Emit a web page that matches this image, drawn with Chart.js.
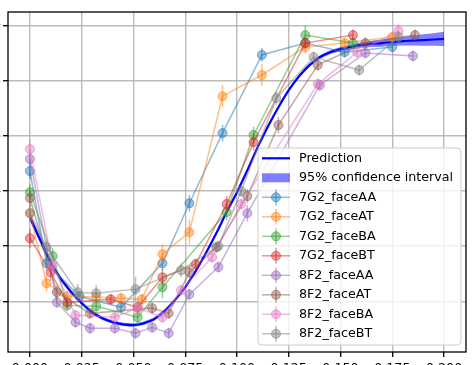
<!DOCTYPE html>
<html>
<head>
<meta charset="utf-8">
<script src="https://cdn.jsdelivr.net/npm/chart.js@4.4.1/dist/chart.umd.min.js"></script>
<style>
  html, body { margin: 0; padding: 0; background: #fff; overflow: hidden; }
  #wrap { position: absolute; left: -32px; top: 0; }
</style>
</head>
<body>
<div id="wrap"><canvas id="fitChart" width="506" height="392"></canvas></div>
<script>
// tick labels
const xTicks = [0, 0.025, 0.05, 0.075, 0.1, 0.125, 0.15, 0.175, 0.2];
const yTicks = [0, 0.2, 0.4, 0.6, 0.8, 1.0];

// fitted curve and its 95% band
const predX = [0.000, 0.005, 0.010, 0.015, 0.020, 0.025, 0.030, 0.035, 0.040, 0.045,
               0.050, 0.055, 0.060, 0.065, 0.070, 0.075, 0.080, 0.085, 0.090, 0.095,
               0.100, 0.105, 0.110, 0.115, 0.120, 0.125, 0.130, 0.135, 0.140, 0.145,
               0.150, 0.155, 0.160, 0.165, 0.170, 0.175, 0.180, 0.185, 0.190, 0.195, 0.200];
const predY = [0.305, 0.222, 0.142, 0.080, 0.033, -0.007, -0.040, -0.062, -0.076, -0.084,
               -0.087, -0.080, -0.065, -0.036, 0.004, 0.051, 0.109, 0.175, 0.247, 0.324,
               0.396, 0.476, 0.560, 0.636, 0.705, 0.767, 0.818, 0.858, 0.887, 0.905,
               0.916, 0.924, 0.931, 0.935, 0.938, 0.942, 0.945, 0.947, 0.949, 0.951, 0.953];
const ciLow  = [0.291, 0.211, 0.133, 0.072, 0.026, -0.013, -0.046, -0.068, -0.082, -0.090,
               -0.093, -0.086, -0.071, -0.042, -0.002, 0.045, 0.103, 0.169, 0.241, 0.318,
               0.390, 0.470, 0.554, 0.630, 0.699, 0.761, 0.812, 0.852, 0.880, 0.898,
               0.908, 0.915, 0.921, 0.924, 0.925, 0.928, 0.929, 0.929, 0.928, 0.928, 0.927];
const ciHigh = [0.319, 0.233, 0.151, 0.088, 0.040, -0.001, -0.034, -0.056, -0.070, -0.078,
               -0.081, -0.074, -0.059, -0.030, 0.010, 0.057, 0.115, 0.181, 0.253, 0.330,
               0.402, 0.482, 0.566, 0.642, 0.711, 0.773, 0.824, 0.864, 0.894, 0.912,
               0.924, 0.933, 0.941, 0.946, 0.951, 0.956, 0.961, 0.965, 0.970, 0.974, 0.979];

// measured series
const seriesNames = ['7G2_faceAA', '7G2_faceAT', '7G2_faceBA', '7G2_faceBT',
                     '8F2_faceAA', '8F2_faceAT', '8F2_faceBA', '8F2_faceBT'];

const x7G2_AA = [0.000, 0.008, 0.024, 0.044, 0.064, 0.077, 0.093, 0.112, 0.133, 0.152, 0.175];
const y7G2_AA = [0.473, 0.138, 0.018, -0.022, 0.138, 0.356, 0.611, 0.895, 0.938, 0.905, 0.924];
const e7G2_AA = [0.03, 0.025, 0.02, 0.02, 0.025, 0.03, 0.03, 0.025, 0.02, 0.02, 0.02];

const x7G2_AT = [0.000, 0.008, 0.018, 0.032, 0.044, 0.054, 0.064, 0.077, 0.093, 0.112, 0.133, 0.152, 0.175];
const y7G2_AT = [0.320, 0.065, 0.018, 0.015, 0.011, 0.007, 0.171, 0.251, 0.745, 0.822, 0.924, 0.938, 0.960];
const e7G2_AT = [0.03, 0.03, 0.02, 0.025, 0.02, 0.02, 0.035, 0.045, 0.04, 0.04, 0.025, 0.02, 0.02];

const x7G2_BA = [0.000, 0.011, 0.018, 0.032, 0.052, 0.064, 0.095, 0.108, 0.133, 0.156];
const y7G2_BA = [0.396, 0.164, -0.015, -0.018, -0.058, 0.051, 0.324, 0.604, 0.967, 0.938];
const e7G2_BA = [0.03, 0.03, 0.02, 0.02, 0.03, 0.04, 0.03, 0.03, 0.035, 0.02];

const x7G2_BT = [0.000, 0.010, 0.018, 0.039, 0.052, 0.064, 0.080, 0.095, 0.108, 0.133, 0.156];
const y7G2_BT = [0.229, 0.105, -0.004, 0.007, -0.022, 0.087, 0.135, 0.353, 0.578, 0.938, 0.967];
const e7G2_BT = [0.035, 0.03, 0.02, 0.02, 0.02, 0.03, 0.02, 0.03, 0.03, 0.02, 0.02];

const x8F2_AA = [0.000, 0.013, 0.022, 0.029, 0.041, 0.051, 0.059, 0.067, 0.077, 0.091, 0.105, 0.140, 0.162, 0.185];
const y8F2_AA = [0.517, -0.004, -0.076, -0.098, -0.098, -0.116, -0.095, -0.116, 0.025, 0.124, 0.320, 0.785, 0.902, 0.891];
const e8F2_AA = [0.03, 0.02, 0.02, 0.02, 0.02, 0.02, 0.02, 0.02, 0.02, 0.02, 0.03, 0.02, 0.02, 0.02];

const x8F2_AT = [0.000, 0.013, 0.029, 0.059, 0.067, 0.077, 0.090, 0.105, 0.120, 0.139, 0.162, 0.186];
const y8F2_AT = [0.375, 0.033, -0.044, -0.025, -0.044, 0.105, 0.196, 0.382, 0.640, 0.858, 0.938, 0.967];
const e8F2_AT = [0.03, 0.025, 0.02, 0.02, 0.02, 0.02, 0.02, 0.025, 0.03, 0.02, 0.02, 0.02];

const x8F2_BA = [0.000, 0.011, 0.022, 0.041, 0.052, 0.064, 0.073, 0.088, 0.102, 0.139, 0.158, 0.178];
const y8F2_BA = [0.553, 0.131, -0.051, -0.058, -0.025, -0.058, 0.040, 0.160, 0.353, 0.789, 0.905, 0.982];
const e8F2_BA = [0.035, 0.03, 0.02, 0.02, 0.02, 0.02, 0.02, 0.02, 0.02, 0.02, 0.02, 0.025];

const x8F2_BT = [0.000, 0.008, 0.023, 0.032, 0.051, 0.073, 0.091, 0.102, 0.119, 0.137, 0.159, 0.178];
const y8F2_BT = [0.320, 0.196, 0.033, 0.029, 0.044, 0.113, 0.200, 0.400, 0.738, 0.887, 0.840, 0.960];
const e8F2_BT = [0.03, 0.025, 0.03, 0.03, 0.045, 0.025, 0.02, 0.02, 0.025, 0.02, 0.02, 0.02];

const seriesX = [x7G2_AA, x7G2_AT, x7G2_BA, x7G2_BT, x8F2_AA, x8F2_AT, x8F2_BA, x8F2_BT];
const seriesY = [y7G2_AA, y7G2_AT, y7G2_BA, y7G2_BT, y8F2_AA, y8F2_AT, y8F2_BA, y8F2_BT];
const seriesE = [e7G2_AA, e7G2_AT, e7G2_BA, e7G2_BT, e8F2_AA, e8F2_AT, e8F2_BA, e8F2_BT];

// matplotlib tab10
const tab10 = ['31,119,180', '255,127,14', '44,160,44', '214,39,40',
               '148,103,189', '140,86,75', '227,119,194', '127,127,127'];

const FONT = "'DejaVu Sans', sans-serif";
const GRID = 'rgba(176,176,176,0.85)';

Chart.defaults.font.family = FONT;
Chart.defaults.font.size = 12.7;
Chart.defaults.color = '#000';

const toPoints = (xs, ys) => xs.map((x, i) => ({ x: x, y: ys[i] }));

const datasets = [
    {
        label: 'Prediction',
        data: toPoints(predX, predY),
        borderColor: '#0000ff',
        borderWidth: 2.2,
        pointRadius: 0,
        cubicInterpolationMode: 'monotone',
        order: 20
    },
    {
        label: 'ci_low',
        data: toPoints(predX, ciLow),
        borderWidth: 0,
        borderColor: 'rgba(0,0,0,0)',
        pointRadius: 0,
        fill: false,
        order: 22
    },
    {
        label: '95% confidence interval',
        data: toPoints(predX, ciHigh),
        borderWidth: 0,
        borderColor: 'rgba(0,0,0,0)',
        backgroundColor: 'rgba(0,0,255,0.5)',
        pointRadius: 0,
        fill: '-1',
        order: 21
    }
];

seriesNames.forEach(function (name, k) {
    datasets.push({
        label: name,
        data: toPoints(seriesX[k], seriesY[k]),
        yErr: seriesE[k],
        rgb: tab10[k],
        borderColor: 'rgba(' + tab10[k] + ',0.5)',
        backgroundColor: 'rgba(' + tab10[k] + ',0.45)',
        borderWidth: 1.5,
        pointRadius: 4.5,
        pointBorderWidth: 1,
        pointBackgroundColor: 'rgba(' + tab10[k] + ',0.45)',
        pointBorderColor: 'rgba(' + tab10[k] + ',0.55)',
        fill: false,
        tension: 0,
        order: 8 - k
    });
});

// vertical error bars
const errorBars = {
    id: 'errorBars',
    afterDatasetDraw(chart, args) {
        const ds = chart.data.datasets[args.index];
        if (!ds.yErr) return;
        const xs = chart.scales.x, ys = chart.scales.y;
        const ctx = chart.ctx;
        ctx.save();
        ctx.strokeStyle = ds.borderColor;
        ctx.lineWidth = 1.5;
        ds.data.forEach(function (p, i) {
            const px = xs.getPixelForValue(p.x);
            ctx.beginPath();
            ctx.moveTo(px, ys.getPixelForValue(p.y - ds.yErr[i]));
            ctx.lineTo(px, ys.getPixelForValue(p.y + ds.yErr[i]));
            ctx.stroke();
        });
        ctx.restore();
    }
};

// all four spines
const frame = {
    id: 'frame',
    afterDatasetsDraw(chart) {
        const a = chart.chartArea, ctx = chart.ctx;
        ctx.save();
        ctx.strokeStyle = '#000';
        ctx.lineWidth = 1.3;
        ctx.strokeRect(a.left, a.top, a.right - a.left, a.bottom - a.top);
        ctx.restore();
    }
};

// matplotlib-style boxed legend, lower right
const boxLegend = {
    id: 'boxLegend',
    afterDraw(chart) {
        const ctx = chart.ctx, a = chart.chartArea;
        const ox = a.left - 8, oy = a.top - 12;
        const bx = 258 + ox, by = 148 + oy, bw = 203, bh = 197, r = 4;
        ctx.save();
        ctx.beginPath();
        ctx.moveTo(bx + r, by);
        ctx.arcTo(bx + bw, by, bx + bw, by + bh, r);
        ctx.arcTo(bx + bw, by + bh, bx, by + bh, r);
        ctx.arcTo(bx, by + bh, bx, by, r);
        ctx.arcTo(bx, by, bx + bw, by, r);
        ctx.closePath();
        ctx.fillStyle = 'rgba(255,255,255,0.8)';
        ctx.fill();
        ctx.strokeStyle = '#cccccc';
        ctx.lineWidth = 1;
        ctx.stroke();

        const hx0 = 262 + ox, hx1 = 290 + ox, hxm = (hx0 + hx1) / 2, tx = 299 + ox;
        ctx.font = '12.7px ' + FONT;
        ctx.textBaseline = 'middle';
        ctx.textAlign = 'left';

        const items = chart.data.datasets.filter(d => d.label !== 'ci_low');
        items.forEach(function (ds, i) {
            const cy = 158.3 + oy + 19.5 * i;
            if (ds.label === 'Prediction') {
                ctx.strokeStyle = ds.borderColor;
                ctx.lineWidth = 2.2;
                ctx.beginPath(); ctx.moveTo(hx0, cy); ctx.lineTo(hx1, cy); ctx.stroke();
            } else if (!ds.yErr) {
                ctx.fillStyle = ds.backgroundColor;
                ctx.fillRect(hx0, cy - 4.5, hx1 - hx0, 9);
            } else {
                ctx.strokeStyle = ds.borderColor;
                ctx.lineWidth = 1.5;
                ctx.beginPath(); ctx.moveTo(hx0, cy); ctx.lineTo(hx1, cy); ctx.stroke();
                ctx.beginPath(); ctx.moveTo(hxm, cy - 8); ctx.lineTo(hxm, cy + 8); ctx.stroke();
                ctx.beginPath(); ctx.arc(hxm, cy, 4.5, 0, Math.PI * 2);
                ctx.fillStyle = ds.pointBackgroundColor; ctx.fill();
                ctx.strokeStyle = ds.pointBorderColor; ctx.lineWidth = 1; ctx.stroke();
            }
            ctx.fillStyle = '#000';
            ctx.fillText(ds.label, tx, cy);
        });
        ctx.restore();
    }
};

const config = {
    type: 'line',
    data: { datasets: datasets },
    options: {
        responsive: false,
        animation: false,
        layout: { padding: { top: 12, right: 8, left: 0, bottom: 0 } },
        scales: {
            x: {
                type: 'linear',
                min: -0.0106,
                max: 0.2106,
                afterBuildTicks: function (s) { s.ticks = xTicks.map(v => ({ value: v })); },
                afterFit: function (s) { s.height = 40; },
                ticks: {
                    padding: 4,
                    maxRotation: 0,
                    autoSkip: false,
                    callback: v => v.toFixed(3)
                },
                grid: { color: GRID, lineWidth: 1.4, tickColor: '#000', tickLength: 5, tickWidth: 1.3 },
                border: { display: false }
            },
            y: {
                type: 'linear',
                min: -0.1844,
                max: 1.0509,
                afterBuildTicks: function (s) { s.ticks = yTicks.map(v => ({ value: v })); },
                afterFit: function (s) { s.width = 40; },
                ticks: {
                    padding: 2,
                    callback: v => v.toFixed(1)
                },
                grid: { color: GRID, lineWidth: 1.4, tickColor: '#000', tickLength: 5, tickWidth: 1.3 },
                border: { display: false }
            }
        },
        plugins: {
            legend: { display: false },
            tooltip: { enabled: false }
        }
    },
    plugins: [errorBars, frame, boxLegend]
};

const fitChart = new Chart(document.getElementById('fitChart'), config);
</script>
</body>
</html>
